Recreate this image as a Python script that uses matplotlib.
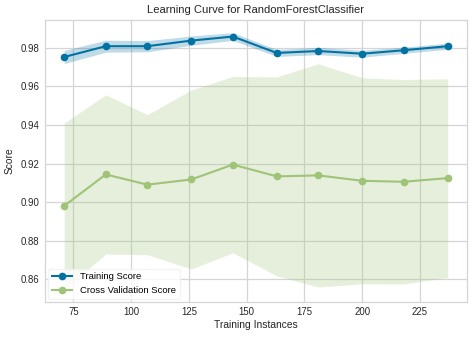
import matplotlib.pyplot as plt
import numpy as np

plt.rcParams['font.family'] = ['Liberation Sans', 'DejaVu Sans']

# learning curve results
train_sizes = [71, 89, 107, 126, 144, 163, 181, 200, 218, 237]
train_mean = [0.9753, 0.9809, 0.9809, 0.9838, 0.9859, 0.9774, 0.9784, 0.9770, 0.9788, 0.9809]
train_std = [0.0034, 0.0031, 0.0029, 0.0024, 0.0020, 0.0018, 0.0019, 0.0018, 0.0016, 0.0016]
cv_mean = [0.8981, 0.9144, 0.9091, 0.9118, 0.9195, 0.9134, 0.9139, 0.9111, 0.9106, 0.9125]
cv_std = [0.0430, 0.0413, 0.0363, 0.0464, 0.0457, 0.0516, 0.0579, 0.0534, 0.0530, 0.0515]

train_color = '#0272a2'
cv_color = '#9fc377'

train_sizes = np.array(train_sizes)
train_mean, train_std = np.array(train_mean), np.array(train_std)
cv_mean, cv_std = np.array(cv_mean), np.array(cv_std)

fig = plt.figure(figsize=(4.74, 3.37), dpi=100)
ax = fig.add_axes([0.095, 0.105, 0.89, 0.836])
ax.set_facecolor('white')

ax.fill_between(train_sizes, train_mean - train_std, train_mean + train_std,
                color=train_color, alpha=0.25, linewidth=0)
ax.fill_between(train_sizes, cv_mean - cv_std, cv_mean + cv_std,
                color=cv_color, alpha=0.25, linewidth=0)

ax.plot(train_sizes, train_mean, 'o-', color=train_color, lw=1.5, ms=4.5,
        label='Training Score')
ax.plot(train_sizes, cv_mean, 'o-', color=cv_color, lw=1.5, ms=4.5,
        label='Cross Validation Score')

ax.set_title('Learning Curve for RandomForestClassifier', fontsize=8.1, color='#262626', pad=5)
ax.set_xlabel('Training Instances', fontsize=7.4, color='#262626', labelpad=2)
ax.set_ylabel('Score', fontsize=7.4, color='#262626', labelpad=4)

ax.set_xticks([75, 100, 125, 150, 175, 200, 225])
ax.set_yticks([0.86, 0.88, 0.90, 0.92, 0.94, 0.96, 0.98])
ax.set_yticklabels(['0.86', '0.88', '0.90', '0.92', '0.94', '0.96', '0.98'])
ax.tick_params(length=0, labelsize=6.9, labelcolor='#262626', pad=4)

ax.grid(True, color='#d5d5d5', linewidth=0.9)
ax.set_axisbelow(True)
for s in ax.spines.values():
    s.set_color('#d5d5d5')
    s.set_linewidth(0.9)

leg = ax.legend(loc='lower left', fontsize=6.8, frameon=True, borderaxespad=0.3,
                handlelength=2.2, labelspacing=0.5)
leg.get_frame().set_facecolor('white')
leg.get_frame().set_edgecolor('#f0f0f0')
leg.get_frame().set_alpha(0.8)

fig.savefig('out.png', dpi=100)
